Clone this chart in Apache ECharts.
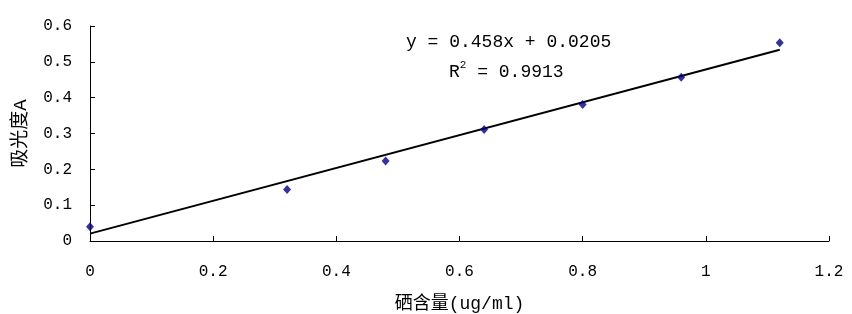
<!DOCTYPE html>
<html>
<head>
<meta charset="utf-8">
<script src="https://cdn.jsdelivr.net/npm/echarts@6/dist/echarts.min.js"></script>
<style>
  html, body { margin: 0; padding: 0; background: #fff; }
  #chart { width: 852px; height: 314px; }
</style>
</head>
<body>
<div id="chart"></div>
<script>
// selenium content vs absorbance
const concentration = [0, 0.32, 0.48, 0.64, 0.8, 0.96, 1.12];
const absorbance = [0.04, 0.144, 0.223, 0.311, 0.381, 0.457, 0.553];
// linear trendline endpoints (y = 0.458x + 0.0205)
const trendX = [0, 1.12];
const trendY = [0.0205, 0.5335];
const equationText = 'y = 0.458x + 0.0205';
const r2Text = '0.9913';

const monoFont = '"Liberation Mono", "Noto Sans CJK SC", monospace';

let myChart = echarts.init(document.getElementById('chart'), null, { renderer: 'canvas' });
myChart.setOption({
  animation: false,
  backgroundColor: '#fff',
  grid: {
    left: 90,
    right: 23,
    top: 26,
    bottom: 73,
    containLabel: false,
    outerBoundsMode: 'none'
  },
  xAxis: {
    type: 'value',
    min: 0,
    max: 1.2,
    interval: 0.2,
    name: '硒含量(ug/ml)',
    nameLocation: 'middle',
    nameGap: 54,
    nameTextStyle: { fontFamily: monoFont, fontSize: 18, color: '#000' },
    axisLine: { lineStyle: { color: '#000', width: 1 } },
    axisTick: { inside: true, length: 5, lineStyle: { color: '#000' } },
    axisLabel: { fontFamily: monoFont, fontSize: 16, color: '#000', margin: 23 },
    splitLine: { show: false }
  },
  yAxis: {
    type: 'value',
    min: 0,
    max: 0.6,
    interval: 0.1,
    name: '吸光度A',
    nameLocation: 'middle',
    nameGap: 60,
    nameRotate: 90,
    nameTextStyle: { fontFamily: monoFont, fontSize: 19, color: '#000' },
    axisLine: { show: true, lineStyle: { color: '#000', width: 1 } },
    axisTick: { show: true, inside: true, length: 5, lineStyle: { color: '#000' } },
    axisLabel: { fontFamily: monoFont, fontSize: 16, color: '#000', margin: 18 },
    splitLine: { show: false }
  },
  series: [{
    name: 'trend',
    type: 'line',
    data: trendX.map((x, i) => [x, trendY[i]]),
    symbol: 'none',
    lineStyle: { color: '#000', width: 2 },
    z: 2
  }, {
    name: 'points',
    type: 'scatter',
    data: concentration.map((x, i) => [x, absorbance[i]]),
    symbol: 'diamond',
    symbolSize: [8, 9],
    itemStyle: { color: '#000080' },
    z: 3
  }],
  graphic: [{
    type: 'text',
    left: 406,
    top: 33,
    style: {
      text: equationText,
      font: '18px ' + monoFont,
      fill: '#000'
    }
  }, {
    type: 'text',
    left: 449,
    top: 60,
    style: {
      text: '{b|R}{s|2}{b| = ' + r2Text + '}',
      rich: {
        b: { fontFamily: monoFont, fontSize: 18, fill: '#000', verticalAlign: 'bottom' },
        s: { fontFamily: monoFont, fontSize: 11, fill: '#000', verticalAlign: 'top', padding: [0, 0, 10, 0] }
      }
    }
  }]
});

window.addEventListener('resize', function() {
  myChart.resize();
});
</script>
</body>
</html>
